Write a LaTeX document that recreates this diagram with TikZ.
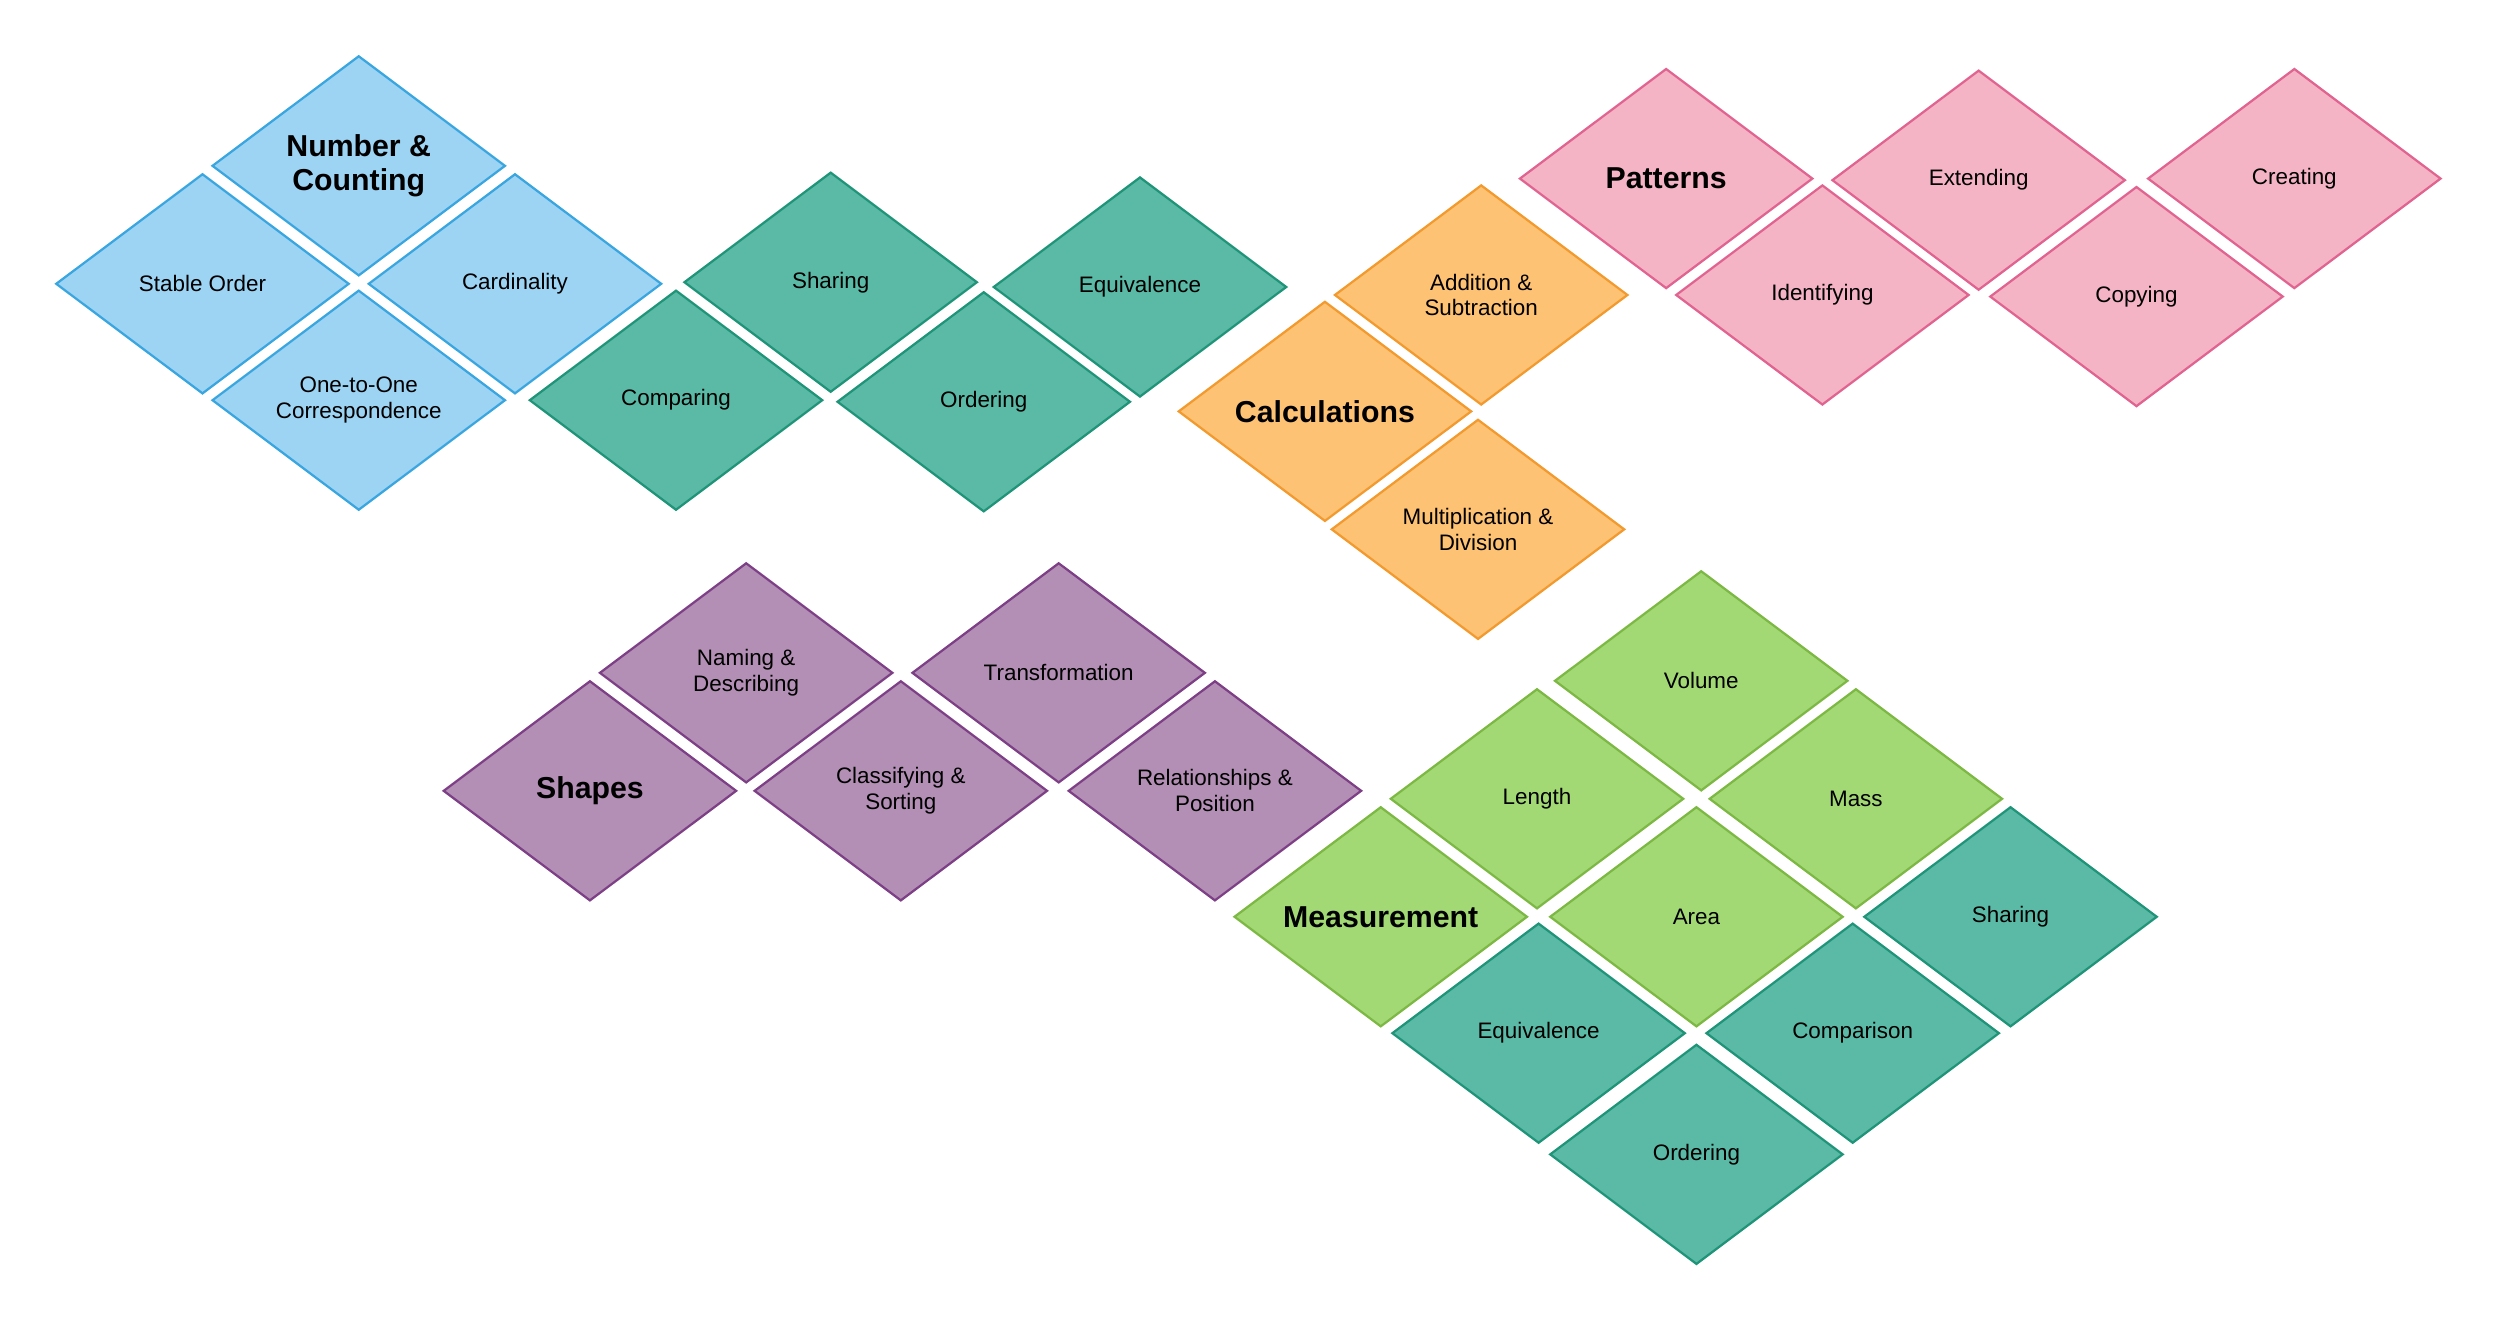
\documentclass[tikz,border=0pt]{standalone}
\usepackage{fontspec}
\setmainfont{Liberation Sans}
\usetikzlibrary{shapes.geometric}
\definecolor{bF}{HTML}{9DD3F3}\definecolor{bD}{HTML}{3AA6E0}
\definecolor{tF}{HTML}{5BBAA6}\definecolor{tD}{HTML}{1F9478}
\definecolor{oF}{HTML}{FEC274}\definecolor{oD}{HTML}{F29A2E}
\definecolor{pF}{HTML}{F4B4C6}\definecolor{pD}{HTML}{E06390}
\definecolor{uF}{HTML}{B38FB5}\definecolor{uD}{HTML}{7D3F85}
\definecolor{gF}{HTML}{A3D975}\definecolor{gD}{HTML}{7CB843}
\tikzset{
 dia/.style={diamond,aspect=1.333,minimum width=92mm,minimum height=69mm,inner sep=0pt,
   line width=2pt,align=center,font=\fontsize{20}{23}\selectfont},
 big/.style={font=\fontsize{27}{31}\selectfont\bfseries},
 blu/.style={dia,fill=bF,draw=bD}, tea/.style={dia,fill=tF,draw=tD},
 ora/.style={dia,fill=oF,draw=oD}, pin/.style={dia,fill=pF,draw=pD},
 pur/.style={dia,fill=uF,draw=uD}, gre/.style={dia,fill=gF,draw=gD}}
\begin{document}
\begin{tikzpicture}[x=0.5mm,y=-0.5mm]
\useasboundingbox (0,0) rectangle (1568,830);
\node[blu,big] (nc) at (225,104) {Number \&\\Counting};
\node[blu] (so) at (127,178) {Stable Order};
\node[blu] (ca) at (323,178) {Cardinality};
\node[blu] (oo) at (225,251) {One-to-One\\Correspondence};
\node[tea] (sh1) at (521,177) {Sharing};
\node[tea] (eq1) at (715,180) {Equivalence};
\node[tea] (cp1) at (424,251) {Comparing};
\node[tea] (or1) at (617,252) {Ordering};
\node[ora] (ad) at (929,185) {Addition \&\\Subtraction};
\node[ora,big] (cal) at (831,258) {Calculations};
\node[ora] (mu) at (927,332) {Multiplication \&\\Division};
\node[pin,big] (pat) at (1045,112) {Patterns};
\node[pin] (ext) at (1241,113) {Extending};
\node[pin] (cre) at (1439,112) {Creating};
\node[pin] (ide) at (1143,185) {Identifying};
\node[pin] (cop) at (1340,186) {Copying};
\node[pur] (nam) at (468,422) {Naming \&\\Describing};
\node[pur] (tra) at (664,422) {Transformation};
\node[pur,big] (sha) at (370,496) {Shapes};
\node[pur] (cla) at (565,496) {Classifying \&\\Sorting};
\node[pur] (rel) at (762,496) {Relationships \&\\Position};
\node[gre] (vol) at (1067,427) {Volume};
\node[gre] (len) at (964,501) {Length};
\node[gre] (mas) at (1164,501) {Mass};
\node[gre,big] (mea) at (866,575) {Measurement};
\node[gre] (are) at (1064,575) {Area};
\node[tea] (sh2) at (1261,575) {Sharing};
\node[tea] (eq2) at (965,648) {Equivalence};
\node[tea] (cm2) at (1162,648) {Comparison};
\node[tea] (or2) at (1064,724) {Ordering};
\end{tikzpicture}
\end{document}
